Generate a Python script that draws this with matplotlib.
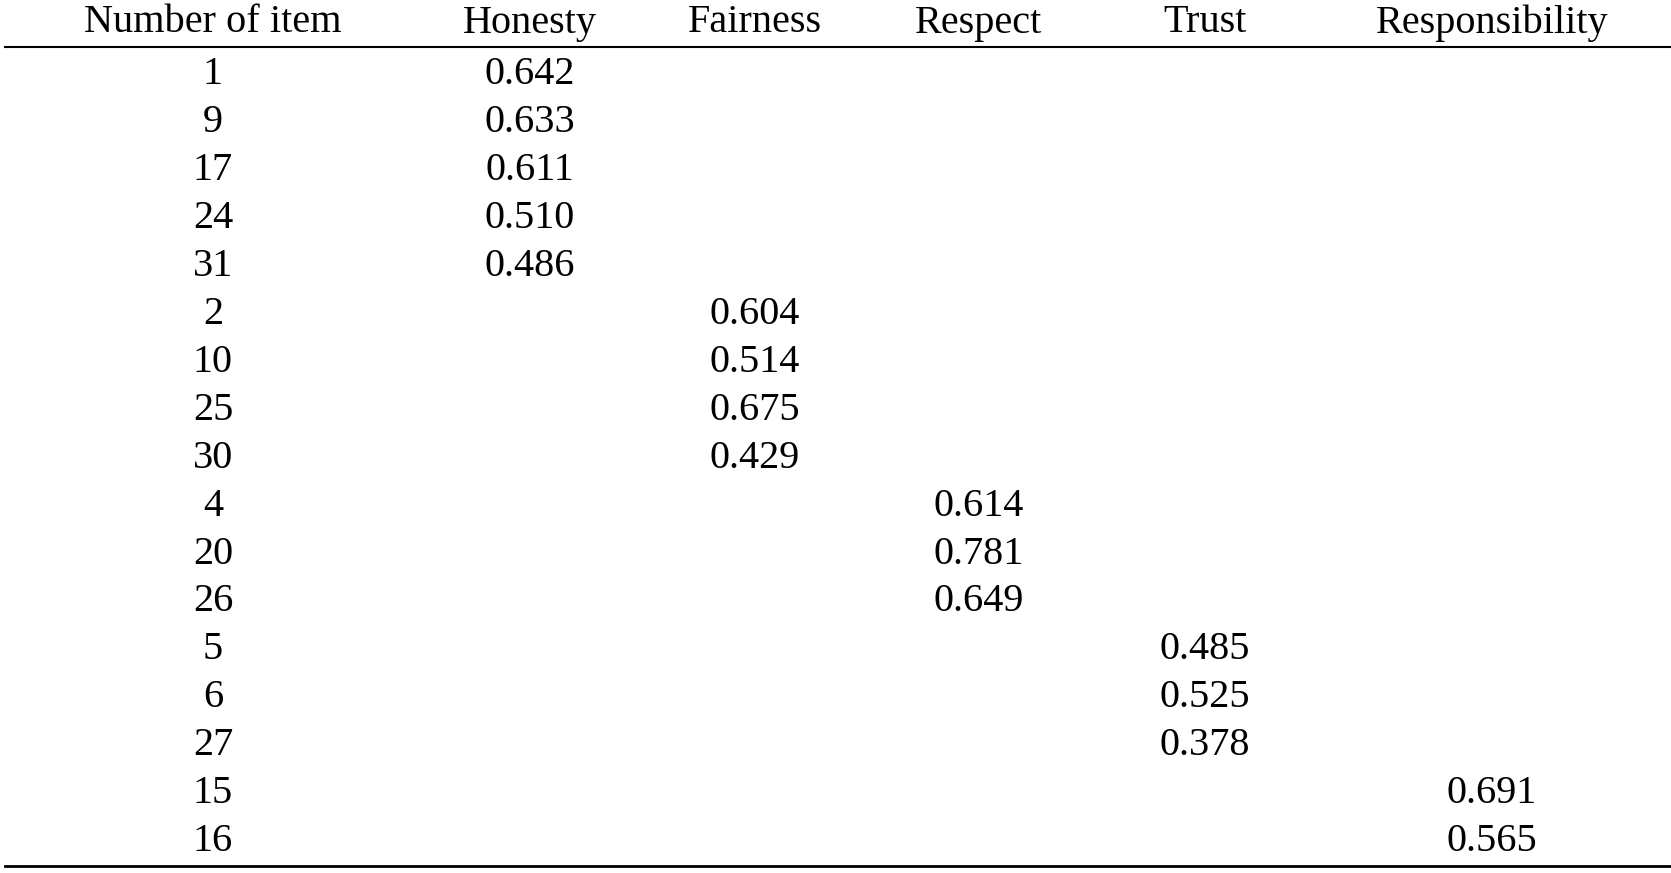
import matplotlib
matplotlib.use("Agg")
import matplotlib.pyplot as plt

headers = ["Number of item", "Honesty", "Fairness", "Respect", "Trust", "Responsibility"]
items = ["1", "9", "17", "24", "31", "2", "10", "25", "30", "4", "20", "26", "5", "6", "27", "15", "16"]
factor = [0, 0, 0, 0, 0, 1, 1, 1, 1, 2, 2, 2, 3, 3, 3, 4, 4]
loadings = ["0.642", "0.633", "0.611", "0.510", "0.486", "0.604", "0.514", "0.675", "0.429",
            "0.614", "0.781", "0.649", "0.485", "0.525", "0.378", "0.691", "0.565"]

W, H = 1671, 873
fig = plt.figure(figsize=(W/100, H/100), dpi=100)
ax = fig.add_axes([0, 0, 1, 1])
ax.set_xlim(0, W); ax.set_ylim(H, 0); ax.axis("off")

xs = [213, 530, 755, 979, 1205, 1492]
fs = 29
font = "Liberation Serif"
for x, h in zip(xs, headers):
    ax.text(x, 23, h, ha="center", va="center", fontsize=fs, family=font)
ax.plot([5, W], [47, 47], color="black", lw=1.5)
y0, dy = 75, 47.9
for i, (it, f, v) in enumerate(zip(items, factor, loadings)):
    y = y0 + i*dy
    ax.text(xs[0], y, it, ha="center", va="center", fontsize=fs, family=font)
    ax.text(xs[f+1], y, v, ha="center", va="center", fontsize=fs, family=font)
ax.plot([5, W], [866, 866], color="black", lw=2)
fig.savefig("out.png", dpi=100, facecolor="white")
